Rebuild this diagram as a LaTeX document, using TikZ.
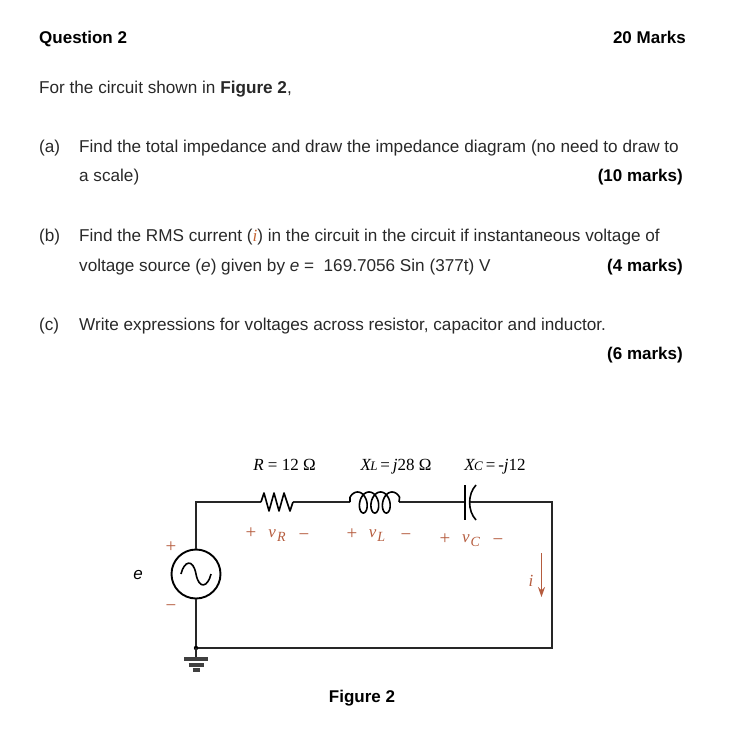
\documentclass[tikz,border=0pt]{standalone}
\usepackage{fontspec}
\setmainfont{Liberation Sans}
\newfontfamily\serifcct{Liberation Serif}
\usetikzlibrary{positioning}
\usetikzlibrary{arrows.meta}
\definecolor{rust}{RGB}{181,92,62}
\definecolor{inkgray}{RGB}{40,40,40}
\tikzset{
  sheet/.style={x=1pt,y=-1pt},
  para/.style={anchor=base west,inner sep=0pt,font=\fontsize{17.15}{20}\selectfont,text=inkgray},
  marks/.style={anchor=base east,inner sep=0pt,font=\fontsize{17}{20}\selectfont\bfseries,text=black},
  wire/.style={black!85,line width=1.1pt},
  part/.style={black,line width=1.6pt,line join=round},
  value/.style={font=\serifcct\fontsize{17}{20}\selectfont,inner sep=0pt,anchor=base},
  polarity/.style={text=rust,font=\serifcct\fontsize{19}{22}\selectfont,inner sep=0pt},
  volt/.style={text=rust,font=\serifcct\itshape\fontsize{17}{20}\selectfont,inner sep=0pt},
}
\newcommand{\volt}[2]{#1\kern1pt\raisebox{-4pt}{\fontsize{14}{16}\selectfont #2}}
\begin{document}
\begin{tikzpicture}[sheet]
    \useasboundingbox (0,0) rectangle (729,735);

    % question text
    \node[para,font=\fontsize{17}{20}\selectfont\bfseries,text=black] (title) at (39,44) {Question 2};
    \node[marks] (total) at (686,44) {20 Marks};
    \node[para] (intro) at (39,94) {For the circuit shown in \textbf{Figure 2},};

    \node[para] (a) at (39,153) {(a)};
    \node[para] (aa) at (79,153) {Find the total impedance and draw the impedance diagram (no need to draw to};
    \node[para] (ab) at (79,182) {a scale)};
    \node[marks] (am) at (683,182) {(10 marks)};

    \node[para] (b) at (39,241) {(b)};
    \node[para] (ba) at (79,241) {Find the RMS current ({\serifcct\itshape\color{rust!80!orange} i}) in the circuit in the circuit if instantaneous voltage of};
    \node[para] (bb) at (79,271) {voltage source (\textit{e}) given by \textit{e} =\ \ 169.7056 Sin (377t) V};
    \node[marks] (bm) at (683,271) {(4 marks)};

    \node[para] (c) at (39,330) {(c)};
    \node[para] (ca) at (79,330) {Write expressions for voltages across resistor, capacitor and inductor.};
    \node[marks] (cm) at (683,359) {(6 marks)};

    % circuit corners
    \coordinate (tl) at (196,502);
    \coordinate (tr) at (552,502);
    \coordinate (br) at (552,648);
    \coordinate (bl) at (196,648);
    \coordinate (resin) at (261,502);
    \coordinate (resout) at (293,502);
    \coordinate (indin) at (350,502);
    \coordinate (indout) at (399,502);
    \coordinate (capin) at (465,502);
    \coordinate (capout) at (470,502);
    \node[circle,draw,line width=1.9pt,minimum size=49pt,inner sep=0pt] (src) at (196,574) {};

    \draw[wire] (src) -- (tl) -- (resin);
    \draw[wire] (resout) -- (indin);
    \draw[wire] (indout) -- (capin);
    \draw[wire] (capout) -- (tr) -- (br) -- (bl) -- (src);
    \fill (bl) circle (2.2);

    % resistor
    \draw[part] (resin) -- (264,493) -- (269,511) -- (274,493) -- (279,511) -- (284,493) -- (290,511) -- (resout);
    % inductor
    \draw[part] (indin) -- plot[domain=-60:1140,samples=160,variable=\t] ({357.55+0.03194*\t+6.5*sin(\t)},{502.5-10.5*cos(\t)}) -- (indout);
    % capacitor
    \draw[black,line width=2pt] (465,485) -- (465,520);
    \draw[part] (476,485) .. controls (467.5,494) and (467.5,511) .. (476,520);

    % sine in the source
    \draw[part] (181,574) .. controls (184,561) and (193,558) .. (196,574)
                .. controls (199,590) and (208,587) .. (211,574);

    % ground
    \draw[wire] (bl) -- (196,657);
    \foreach \y/\w in {659/12,665/7.5,670/3.5}{
        \draw[black!75,line width=3.4pt] (196-\w,\y) -- (196+\w,\y);
    }

    % values
    \node[value] (rval) at (284.5,470) {\textit{R} = 12 Ω};
    \node[value] (xlval) at (396,470) {\textit{X\kern-.5pt\fontsize{13}{15}\selectfont L}\,=\,\textit{j}28 Ω};
    \node[value] (xcval) at (495,470) {\textit{X\kern-.5pt\fontsize{13}{15}\selectfont C}\,=\,-\textit{j}12};

    % voltages
    \node[polarity] (rp) at (251,533) {+};
    \node[volt] (rv) at (277,536) {\volt{v}{R}};
    \node[polarity] (rm) at (304,537) {−};
    \node[polarity] (lp) at (352,534) {+};
    \node[volt] (lv) at (377,536) {\volt{v}{L}};
    \node[polarity] (lm) at (406,537) {−};
    \node[polarity] (cp) at (445,539) {+};
    \node[volt] (cv) at (471,541) {\volt{v}{C}};
    \node[polarity] (cm2) at (498,542) {−};

    \node[polarity] (sp) at (171,547) {+};
    \node[polarity] (sm) at (171,608) {−};
    \node[inner sep=0pt,font=\fontsize{17}{20}\selectfont] (e) at (138,575) {\textit{e}};

    % current
    \coordinate (itop) at (541.5,553);
    \coordinate (ibot) at (541.5,597);
    \draw[rust,line width=1.2pt,-{Stealth[length=10pt,width=7pt]}] (itop) -- (ibot);
    \node[volt] (i) at (531,581) {i};

    \node[anchor=base,inner sep=0pt,font=\fontsize{17}{20}\selectfont\bfseries] (fig) at (362,702) {Figure 2};
\end{tikzpicture}
\end{document}
